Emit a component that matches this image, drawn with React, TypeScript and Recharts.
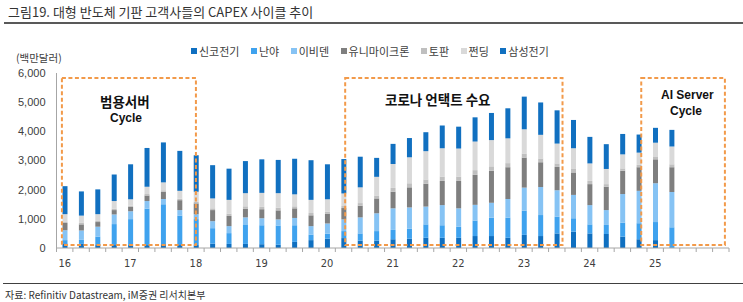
import { Bar, BarChart, ReferenceArea, XAxis, YAxis } from "recharts";

// quarter slots on the axis (last three are empty)
const quarters = [
  "16Q1", "16Q2", "16Q3", "16Q4", "17Q1", "17Q2", "17Q3", "17Q4",
  "18Q1", "18Q2", "18Q3", "18Q4", "19Q1", "19Q2", "19Q3", "19Q4",
  "20Q1", "20Q2", "20Q3", "20Q4", "21Q1", "21Q2", "21Q3", "21Q4",
  "22Q1", "22Q2", "22Q3", "22Q4", "23Q1", "23Q2", "23Q3", "23Q4",
  "24Q1", "24Q2", "24Q3", "24Q4", "25Q1", "25Q2", "25Q3", "25Q4", "26Q1",
];
const yearLabels = ["16", "17", "18", "19", "20", "21", "22", "23", "24", "25"];

// CAPEX, 백만달러
const shinko = [160, 140, 100, 100, 100, 100, 130, 100, 100, 150, 140, 140, 130, 110, 210, 270, 320, 340, 250, 250, 300, 320, 350, 350, 350, 410, 410, 350, 450, 410, 500, 560, 500, 480, 390, 300, 270, 0];
const nanya = [110, 140, 290, 720, 890, 1250, 1370, 1010, 890, 530, 370, 670, 650, 660, 570, 190, 170, 240, 250, 330, 320, 340, 460, 430, 380, 530, 630, 690, 830, 720, 570, 460, 310, 310, 480, 550, 620, 710];
const ibiden = [340, 320, 340, 330, 270, 260, 180, 190, 170, 240, 240, 240, 240, 210, 250, 290, 350, 400, 550, 610, 740, 730, 610, 690, 630, 540, 510, 640, 790, 960, 910, 800, 660, 510, 980, 1110, 1330, 1210];
const unimicron = [250, 210, 160, 150, 150, 190, 250, 340, 370, 380, 350, 300, 310, 310, 330, 370, 340, 390, 400, 510, 570, 690, 780, 830, 940, 1030, 1100, 1090, 1030, 850, 800, 770, 720, 800, 800, 810, 820, 850];
const toppan = [50, 50, 40, 50, 40, 50, 50, 50, 60, 60, 80, 80, 80, 90, 70, 80, 70, 70, 90, 100, 130, 140, 150, 150, 150, 160, 150, 140, 140, 130, 120, 120, 110, 90, 80, 80, 80, 100];
const zhending = [250, 250, 230, 260, 220, 250, 270, 270, 340, 340, 470, 450, 480, 500, 410, 450, 420, 430, 540, 640, 820, 890, 970, 970, 960, 980, 900, 850, 830, 810, 680, 710, 600, 520, 480, 420, 490, 610];
const semco = [960, 830, 850, 910, 1200, 1330, 1370, 1370, 1250, 1140, 1070, 1100, 1150, 1140, 1220, 1360, 1200, 1180, 1050, 650, 690, 660, 650, 780, 750, 830, 930, 1030, 1120, 1110, 1140, 970, 910, 850, 700, 620, 510, 570];

const series = [
  { key: "shinko", name: "신코전기", color: "#0F6FC0", values: shinko },
  { key: "nanya", name: "난야", color: "#3FA2EE", values: nanya },
  { key: "ibiden", name: "이비덴", color: "#86C3F4", values: ibiden },
  { key: "unimicron", name: "유니마이크론", color: "#7F7F7F", values: unimicron },
  { key: "toppan", name: "토판", color: "#BFBFBF", values: toppan },
  { key: "zhending", name: "쩐딩", color: "#D9D9D9", values: zhending },
  { key: "semco", name: "삼성전기", color: "#1170C0", values: semco },
];

// dashed cycle boxes, in axis units
const cycleBoxes = [
  { x1: -0.17, x2: 8.0, y1: 100, y2: 5830 },
  { x1: 17.1, x2: 30.35, y1: 100, y2: 5830 },
  { x1: 35.15, x2: 40.25, y1: 100, y2: 5830 },
];

const rows = quarters.map((q, i) => {
  const row: Record<string, number | string> = { idx: i, q };
  series.forEach((s) => {
    if (s.values[i] !== undefined) row[s.key] = s.values[i];
  });
  return row;
});

const boundaryTicks = quarters.map((_, i) => i - 0.5).concat([quarters.length - 0.5]);
const yearTicks = yearLabels.map((_, i) => i * 4);
const xTicks = [...boundaryTicks, ...yearTicks].sort((a, b) => a - b);

const narrow = "'Liberation Sans Narrow', 'DejaVu Sans Condensed', 'Liberation Sans', sans-serif";
const kr = "'Noto Sans CJK KR', 'Noto Sans', sans-serif";

const XTick = (props: any) => {
  const { x, y, payload } = props;
  const v = payload.value as number;
  if (Number.isInteger(v)) {
    return (
      <text x={x} y={y + 15} textAnchor="middle" dominantBaseline="central" fontSize={11} fontFamily={narrow} fill="#404040">
        {yearLabels[v / 4]}
      </text>
    );
  }
  return <line x1={x} x2={x} y1={y} y2={y + 4} stroke="#A6A6A6" />;
};

export default function App() {
  return (
    <div style={{ position: "absolute", left: 0, top: 0, width: 743, height: 302, background: "#fff", overflow: "hidden" }}>
      <div style={{ position: "absolute", left: 8, top: 2, fontSize: 13, fontFamily: kr, color: "#333", whiteSpace: "nowrap" }}>
        그림19. 대형 반도체 기판 고객사들의 CAPEX 사이클 추이
      </div>
      <div style={{ position: "absolute", left: 4, top: 22, width: 739, height: 2, background: "#595959" }} />

      <div style={{ position: "absolute", left: 16, top: 50, fontSize: 10.5, fontFamily: kr, color: "#404040" }}>(백만달러)</div>

      <div style={{ position: "absolute", left: 191, top: 43, display: "flex", alignItems: "center", gap: 11.5, fontFamily: kr, fontSize: 11, color: "#404040", whiteSpace: "nowrap" }}>
        {series.map((s) => (
          <div key={s.key} style={{ display: "flex", alignItems: "center" }}>
            <span style={{ display: "inline-block", width: 6, height: 6, background: s.color, marginRight: 2 }} />
            <span>{s.name}</span>
          </div>
        ))}
      </div>

      <div style={{ position: "absolute", left: 0, top: 0 }}>
        <BarChart width={743} height={302} data={rows} margin={{ top: 73, right: 14, bottom: 24, left: 6.5 }}>
          <XAxis
            type="number"
            dataKey="idx"
            domain={[-0.5, quarters.length - 0.5]}
            ticks={xTicks}
            interval={0}
            tick={XTick}
            tickLine={false}
            tickSize={0}
            tickMargin={0}
            height={30}
            axisLine={{ stroke: "#A6A6A6" }}
            allowDecimals
          />
          <YAxis
            domain={[0, 6000]}
            ticks={[0, 1000, 2000, 3000, 4000, 5000, 6000]}
            tickFormatter={(v) => Number(v).toLocaleString("en-US")}
            width={50}
            tickLine={false}
            tickSize={0}
            tickMargin={11}
            axisLine={{ stroke: "#A6A6A6" }}
            tick={{ fontSize: 11, fill: "#404040", fontFamily: "'Liberation Sans', Arial, sans-serif" }}
          />
          {series.map((s) => (
            <Bar key={s.key} dataKey={s.key} name={s.name} stackId="a" fill={s.color} barSize={5} isAnimationActive={false} />
          ))}
          {cycleBoxes.map((b, i) => (
            <ReferenceArea
              key={i}
              x1={b.x1}
              x2={b.x2}
              y1={b.y1}
              y2={b.y2}
              fill="none"
              fillOpacity={0}
              stroke="#F29A4A"
              strokeWidth={2}
              strokeDasharray="4 2.5"
              zIndex={700}
            />
          ))}
        </BarChart>
      </div>

      <div style={{ position: "absolute", left: 100, top: 91, fontSize: 13.5, fontWeight: 700, fontFamily: kr, color: "#111" }}>범용서버</div>
      <div style={{ position: "absolute", left: 110, top: 111, fontSize: 12, fontWeight: 700, fontFamily: "'Liberation Sans', sans-serif", color: "#111" }}>Cycle</div>
      <div style={{ position: "absolute", left: 385, top: 89, fontSize: 13.5, fontWeight: 700, fontFamily: kr, color: "#111", whiteSpace: "nowrap" }}>코로나 언택트 수요</div>
      <div style={{ position: "absolute", left: 661, top: 88, fontSize: 12, fontWeight: 700, fontFamily: "'Liberation Sans', sans-serif", color: "#111", whiteSpace: "nowrap" }}>AI Server</div>
      <div style={{ position: "absolute", left: 670, top: 104, fontSize: 12, fontWeight: 700, fontFamily: "'Liberation Sans', sans-serif", color: "#111" }}>Cycle</div>

      <div style={{ position: "absolute", left: 3, top: 283, width: 740, height: 1, background: "#404040" }} />
      <div style={{ position: "absolute", left: 5, top: 287, fontSize: 10, fontFamily: kr, color: "#333", whiteSpace: "nowrap" }}>
        자료: Refinitiv Datastream, iM증권 리서치본부
      </div>
    </div>
  );
}
